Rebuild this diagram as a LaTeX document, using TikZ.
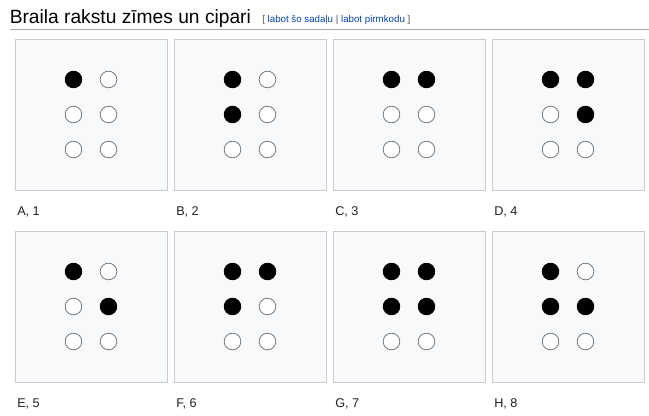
\documentclass[tikz,border=0pt]{standalone}
\usepackage{fontspec}
\setmainfont{Liberation Sans}
\definecolor{boxfill}{HTML}{F8F9FA}
\definecolor{boxline}{HTML}{C8CCD1}
\definecolor{ruleline}{HTML}{A2A9B1}
\definecolor{dotline}{HTML}{72777D}
\definecolor{linkblue}{HTML}{0645AD}
\definecolor{bracketgray}{HTML}{54595D}
\definecolor{textcol}{HTML}{202122}
\begin{document}
\begin{tikzpicture}[x=0.75pt,y=-0.75pt,
  titletext/.style={inner sep=0pt,font=\fontsize{14.4pt}{17pt}\selectfont,text=black},
  edittext/.style={inner sep=0pt,font=\fontsize{7.3pt}{9pt}\selectfont},
  cellbox/.style={draw=boxline,fill=boxfill,line width=0.75pt,minimum width=114pt,minimum height=113.25pt,inner sep=0pt},
  dot0/.style={circle,draw=dotline,fill=white,line width=0.6pt,minimum size=12.5pt,inner sep=0pt},
  dot1/.style={circle,draw=black,fill=black,line width=0.6pt,minimum size=12.5pt,inner sep=0pt},
  celllabel/.style={inner sep=0pt,font=\fontsize{9.5pt}{11pt}\selectfont,text=textcol}]
\useasboundingbox[fill=white] (0,0) rectangle (649,415);
\node[titletext,anchor=base west] (title) at (9.5,23.5) {Braila rakstu zīmes un cipari};
\node[edittext,anchor=base west] (edit) at (262,22.5)
  {\textcolor{bracketgray}{[} \textcolor{linkblue}{labot šo sadaļu} \textcolor{bracketgray}{|} \textcolor{linkblue}{labot pirmkodu} \textcolor{bracketgray}{]}};
\coordinate (ruleL) at (10,29.5);
\coordinate (ruleR) at (649,29.5);
\draw[ruleline,line width=0.75pt] (ruleL) -- (ruleR);
\foreach \n/\c/\r/\lab/\pat in {
  1/0/0/{A, 1}/{1,0,0,0,0,0},
  2/1/0/{B, 2}/{1,1,0,0,0,0},
  3/2/0/{C, 3}/{1,0,0,1,0,0},
  4/3/0/{D, 4}/{1,0,0,1,1,0},
  5/0/1/{E, 5}/{1,0,0,0,1,0},
  6/1/1/{F, 6}/{1,1,0,1,0,0},
  7/2/1/{G, 7}/{1,1,0,1,1,0},
  8/3/1/{H, 8}/{1,1,0,0,1,0}}{
  \pgfmathsetmacro{\bx}{15+159*\c}
  \pgfmathsetmacro{\by}{39+192*\r}
  \node[cellbox,anchor=north west] (box\n) at (\bx,\by) {};
  \foreach \v [count=\d] in \pat {
    \pgfmathtruncatemacro{\col}{int((\d-1)/3)}
    \pgfmathtruncatemacro{\row}{mod(\d-1,3)}
    \node[dot\v] (dot\n-\d) at (\bx+58.5+35*\col,\by+40.5+35*\row) {};
  }
  \node[celllabel,anchor=base west] (lab\n) at (\bx+2,\by+176) {\lab};
}
\end{tikzpicture}
\end{document}
